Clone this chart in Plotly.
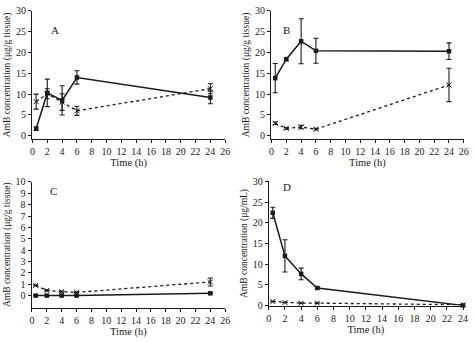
import plotly.graph_objects as go

time = [0.5, 2, 4, 6, 24]

# Panel A
a_solid = [1.7, 10.3, 8.5, 14.0, 9.2]
a_solid_err = [0.4, 3.3, 3.5, 1.6, 1.5]
a_dash = [8.2, 10.1, 8.1, 6.0, 11.3]
a_dash_err = [1.8, 1.2, 2.0, 1.1, 1.2]

# Panel B
b_solid = [13.85, 18.4, 22.7, 20.4, 20.3]
b_solid_err = [3.5, 0.4, 5.4, 3.0, 2.0]
b_dash = [3.0, 1.8, 2.1, 1.6, 12.2]
b_dash_err = [0.3, 0.2, 0.4, 0.2, 4.0]

# Panel C
c_solid = [0.0, 0.0, 0.0, 0.0, 0.2]
c_solid_err = [0.02, 0.02, 0.02, 0.02, 0.05]
c_dash = [0.9, 0.45, 0.35, 0.28, 1.2]
c_dash_err = [0.05, 0.05, 0.05, 0.05, 0.35]

# Panel D
d_solid = [22.4, 12.0, 7.65, 4.25, 0.05]
d_solid_err = [1.35, 3.9, 1.4, 0.2, 0.05]
d_dash = [1.0, 0.75, 0.6, 0.6, 0.2]
d_dash_err = [0.05, 0.05, 0.05, 0.05, 0.05]

x_ticks_abc = list(range(0, 27, 2))
x_ticks_d = list(range(0, 25, 2))
y_ticks_30 = list(range(0, 31, 5))
y_ticks_10 = list(range(0, 11, 1))

FONT = "Liberation Serif"
INK = "#1a1a1a"

fig = go.Figure()

panels = [
    ("", a_solid, a_solid_err, a_dash, a_dash_err),
    ("2", b_solid, b_solid_err, b_dash, b_dash_err),
    ("3", c_solid, c_solid_err, c_dash, c_dash_err),
    ("4", d_solid, d_solid_err, d_dash, d_dash_err),
]

for suf, ys, yse, yd, yde in panels:
    fig.add_trace(go.Scatter(
        x=time, y=yd, xaxis="x" + suf, yaxis="y" + suf, mode="lines+markers",
        line=dict(color=INK, width=1.3, dash="dot"),
        marker=dict(symbol="x-thin", size=5, line=dict(color=INK, width=1)),
        error_y=dict(type="data", array=yde, color=INK, thickness=1.1, width=2.5),
        cliponaxis=False, showlegend=False))
    fig.add_trace(go.Scatter(
        x=time, y=ys, xaxis="x" + suf, yaxis="y" + suf, mode="lines+markers",
        line=dict(color=INK, width=1.5),
        marker=dict(symbol="square", size=4.5, color=INK),
        error_y=dict(type="data", array=yse, color=INK, thickness=1.1, width=2.5),
        cliponaxis=False, showlegend=False))

W, H = 474, 342

def xd(l, r):
    return [l / W, r / W]

def yd_(top, bottom):
    return [1 - bottom / H, 1 - top / H]

axis_common = dict(showline=True, linecolor=INK, linewidth=1, ticks="outside",
                   ticklen=3, tickwidth=1, tickcolor=INK, showgrid=False,
                   zeroline=False, tickfont=dict(family=FONT, size=10, color=INK))

def xaxis(domain, anchor, rng, ticks):
    d = dict(axis_common)
    d.update(domain=domain, anchor=anchor, range=rng, tickvals=ticks,
             title=dict(text="Time (h)", font=dict(family=FONT, size=10.5, color=INK), standoff=1))
    return d

def yaxis(domain, anchor, rng, ticks, title):
    d = dict(axis_common)
    d.update(domain=domain, anchor=anchor, range=rng, tickvals=ticks,
             title=dict(text=title, font=dict(family=FONT, size=9.5, color=INK), standoff=3))
    return d

t_tissue = "AmB concentration (μg/g tissue)"
t_ml = "AmB concentration (μg/mL)"

fig.update_layout(
    width=W, height=H, margin=dict(l=0, r=0, t=0, b=0),
    paper_bgcolor="white", plot_bgcolor="white",
    xaxis=xaxis(xd(29.5, 226), "y", [-0.06, 26], x_ticks_abc),
    yaxis=yaxis(yd_(5, 138), "x", [-0.8, 30], y_ticks_30, t_tissue),
    xaxis2=xaxis(xd(272.7, 468.7), "y2", [-0.06, 26], x_ticks_abc),
    yaxis2=yaxis(yd_(5, 138), "x2", [-0.8, 30], y_ticks_30, t_tissue),
    xaxis3=xaxis(xd(29, 226), "y3", [-0.06, 26], x_ticks_abc),
    yaxis3=yaxis(yd_(182.3, 312.5), "x3", [-1.05, 10], y_ticks_10, t_tissue),
    xaxis4=xaxis(xd(270.3, 468), "y4", [0, 24], x_ticks_d),
    yaxis4=yaxis(yd_(181.7, 310.5), "x4", [0, 30], y_ticks_30, t_ml),
    annotations=[
        dict(text=lab, x=x / W, y=1 - y / H, xref="paper", yref="paper",
             showarrow=False, font=dict(family=FONT, size=11, color=INK))
        for lab, x, y in [("A", 47, 17), ("B", 288, 17), ("C", 46, 192), ("D", 289, 188)]
    ],
)

fig.write_html("out.html")
